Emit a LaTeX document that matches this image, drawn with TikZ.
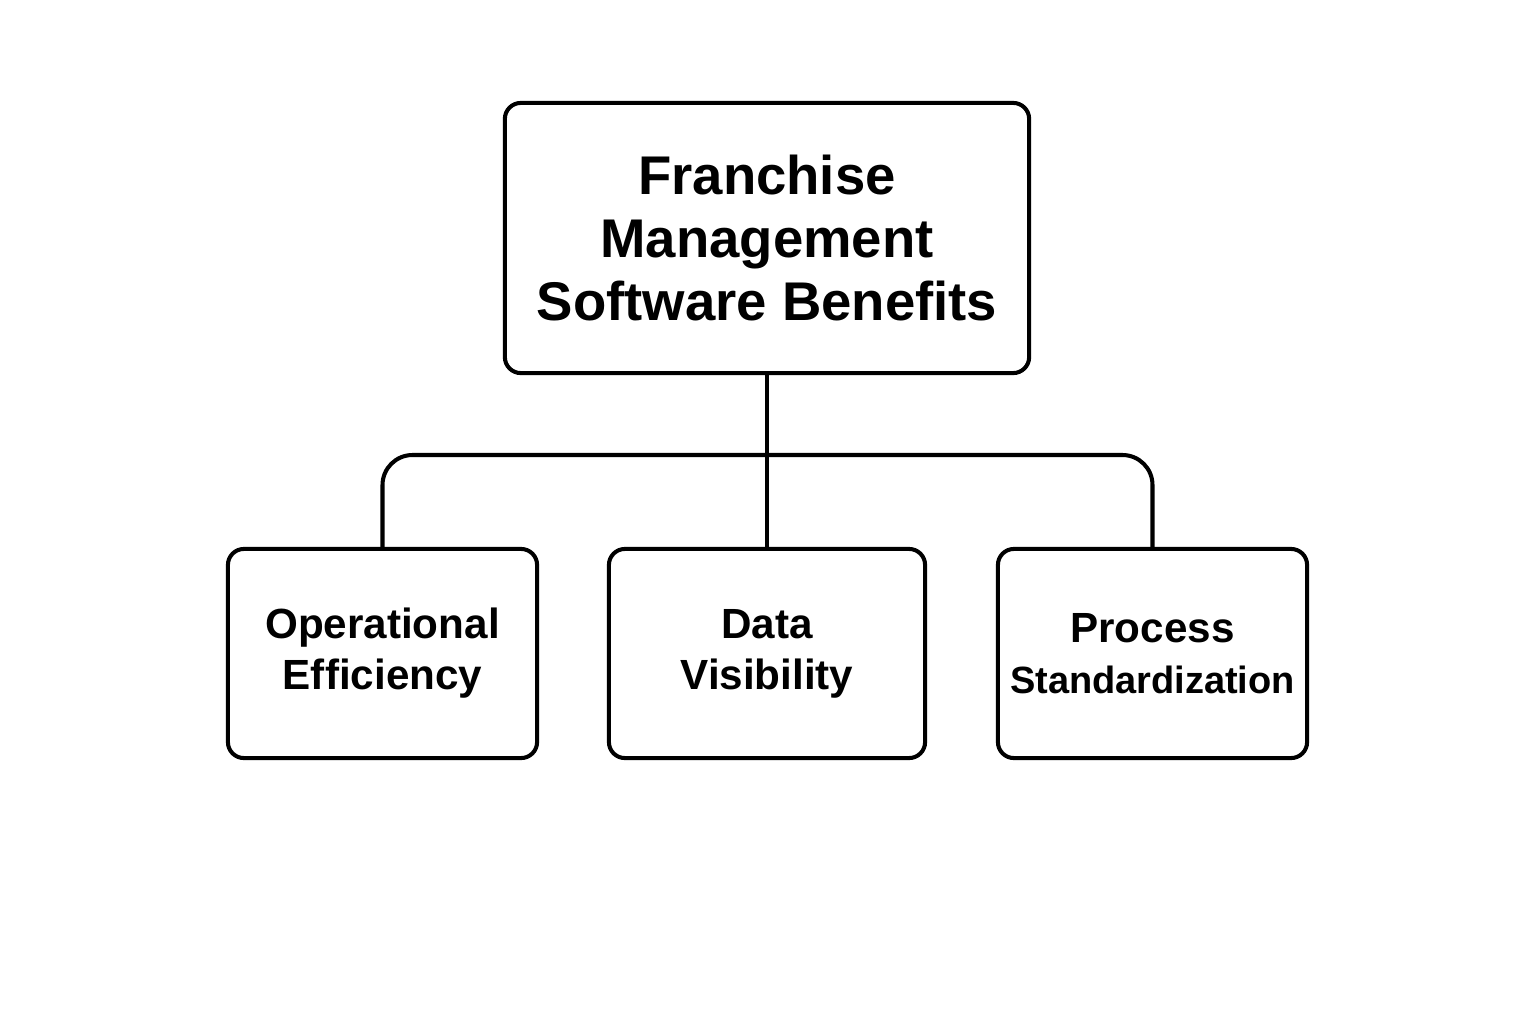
\documentclass[tikz,border=0pt]{standalone}
\usepackage{fontspec}
\setmainfont{Liberation Sans}
\begin{document}
\begin{tikzpicture}[x=0.01cm,y=-0.01cm,
  box/.style={draw,line width=1.15pt,rounded corners=0.16cm,align=center,inner sep=0pt,font=\bfseries},
  conn/.style={line width=1.15pt}]
\useasboundingbox (0,0) rectangle (1536,1024);
\node[box,minimum width=5.24cm,minimum height=2.70cm,font=\bfseries\fontsize{15.5}{17.8}\selectfont] (top) at (767,238) {Franchise\\Management\\Software Benefits};
\node[box,minimum width=3.09cm,minimum height=2.09cm,font=\bfseries\fontsize{12}{14.5}\selectfont] (a) at (382.5,653.5) {Operational\\Efficiency};
\node[box,minimum width=3.16cm,minimum height=2.09cm,font=\bfseries\fontsize{12}{14.5}\selectfont] (b) at (767,653.5) {Data\\Visibility};
\node[box,minimum width=3.09cm,minimum height=2.09cm,font=\bfseries\fontsize{12}{14.5}\selectfont] (c) at (1152.5,653.5) {Process\\{\fontsize{10.8}{14.5}\selectfont Standardization}};
\coordinate (j) at (767,455);
\draw[conn] (top.south) -- (b.north);
\draw[conn,rounded corners=0.3cm] (a.north) |- (j) -| (c.north);
\end{tikzpicture}
\end{document}
